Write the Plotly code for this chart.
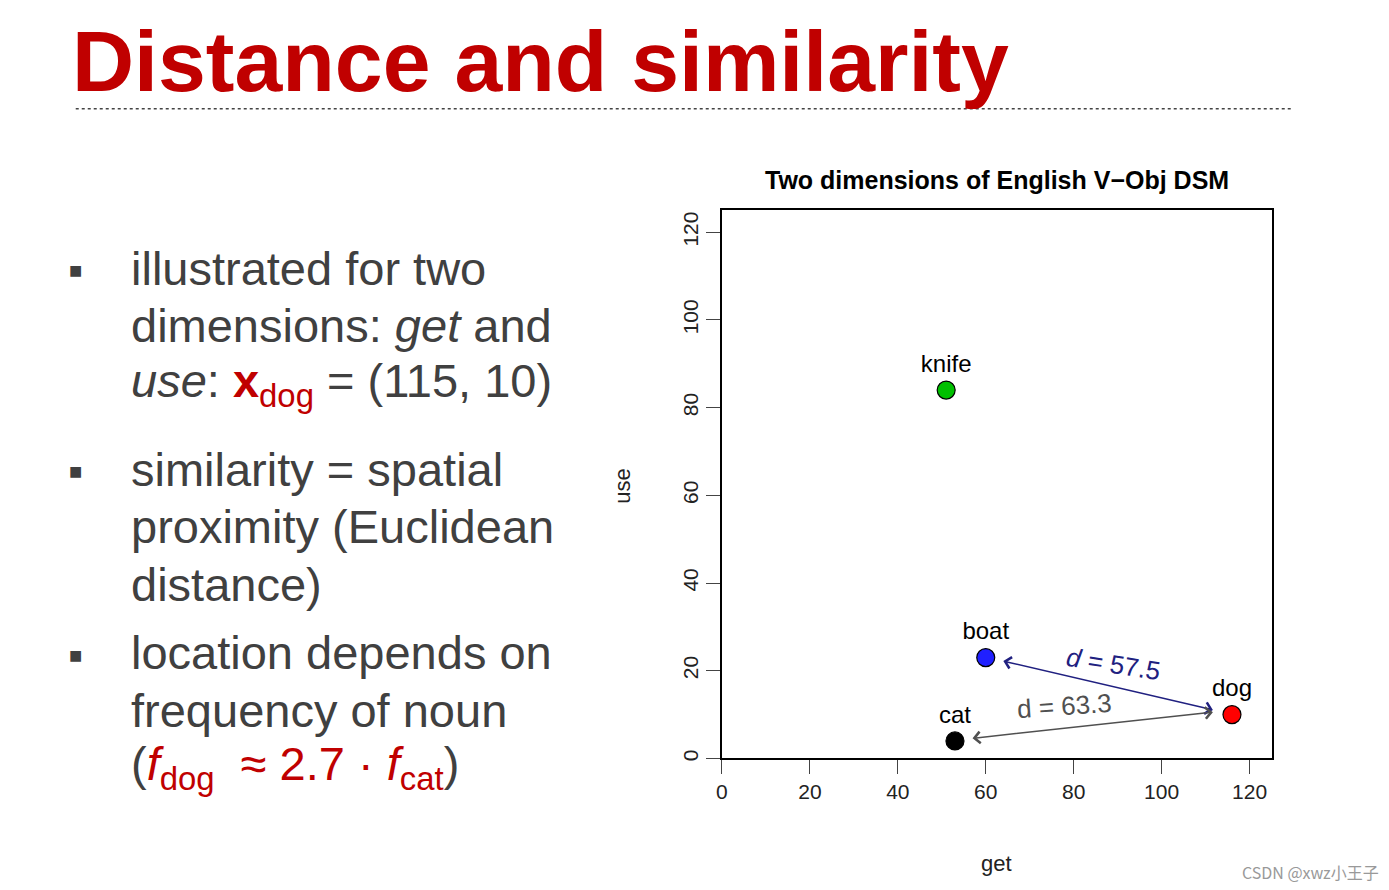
import plotly.graph_objects as go

words = ["knife", "boat", "cat", "dog"]
get_vals = [51, 60, 53, 116]
use_vals = [84, 23, 4, 10]
colors = ["#00c000", "#2020ff", "#000000", "#ff0000"]
ticks = [0, 20, 40, 60, 80, 100, 120]

W, H = 1389, 890
DX, DY = -10, -5  # page offset seen in render
FONT = "Liberation Sans, Arial, sans-serif"
RED = "#c00000"
GREY = "#404040"

def px(x):
    return (x + DX) / W

def py(y):
    return 1 - (y + DY) / H

fig = go.Figure()
fig.add_trace(go.Scatter(
    x=get_vals, y=use_vals, mode="markers+text", text=words,
    textposition="top center", textfont=dict(size=24, color="black", family=FONT),
    marker=dict(size=18, color=colors, line=dict(color="black", width=1.2)),
    cliponaxis=False, hoverinfo="skip"))

# distance arrows
fig.add_annotation(x=get_vals[1] + 4, y=use_vals[1] - 0.8, ax=get_vals[3] - 4, ay=use_vals[3] + 1,
                   xref="x", yref="y", axref="x", ayref="y", text="", showarrow=True,
                   arrowhead=4, startarrowhead=4, arrowside="end+start", arrowwidth=1.5,
                   arrowsize=1.5, arrowcolor="#202080")
fig.add_annotation(x=get_vals[2] + 4, y=use_vals[2] + 0.6, ax=get_vals[3] - 4, ay=use_vals[3] + 0.6,
                   xref="x", yref="y", axref="x", ayref="y", text="", showarrow=True,
                   arrowhead=4, startarrowhead=4, arrowside="end+start", arrowwidth=1.5,
                   arrowsize=1.5, arrowcolor="#505050")
fig.add_annotation(x=89, y=21.5, xref="x", yref="y", text="<i>d</i> = 57.5", showarrow=False,
                   textangle=9, font=dict(size=26, color="#202080", family=FONT))
fig.add_annotation(x=78, y=12, xref="x", yref="y", text="d = 63.3", showarrow=False,
                   textangle=-4, font=dict(size=26, color="#505050", family=FONT))

axis = dict(range=[0, 125], showgrid=False, zeroline=False, ticks="outside", ticklen=14,
            tickwidth=1.3, tickvals=ticks, tickfont=dict(size=21, color="#222", family=FONT),
            showline=True, linecolor="black", linewidth=1.5, mirror=True)
fig.update_layout(
    width=W, height=H, margin=dict(l=0, r=0, t=0, b=0),
    plot_bgcolor="white", paper_bgcolor="white", showlegend=False,
    xaxis=dict(domain=[px(721), px(1273)], **axis),
    yaxis=dict(domain=[py(758), py(208)], tickangle=-90, **axis),
)

ann = []
ann.append(dict(x=px(66), y=py(58), text="<b>Distance and similarity</b>", xanchor="left",
                font=dict(size=86, color=RED, family=FONT)))
ann.append(dict(x=px(997), y=py(178), text="<b>Two dimensions of English V\u2212Obj DSM</b>",
                xanchor="center", font=dict(size=25, color="black", family=FONT)))
ann.append(dict(x=px(997), y=py(863), text="get", xanchor="center",
                font=dict(size=22, color="#222", family=FONT)))
ann.append(dict(x=px(621), y=py(485), text="use", textangle=-90, xanchor="center",
                font=dict(size=22, color="#222", family=FONT)))

lines = [
    (266, "illustrated for two"),
    (324, "dimensions: <i>get</i> and"),
    (382, f"<i>use</i>: <span style='color:{RED}'><b>x</b><sub>dog</sub></span> = (115, 10)"),
    (468, "similarity = spatial"),
    (525, "proximity (Euclidean"),
    (583, "distance)"),
    (652, "location depends on"),
    (710, "frequency of noun"),
    (767, f"(<span style='color:{RED}'><i>f</i><sub>dog</sub>  \u2248 2.7 \u00b7 <i>f</i><sub>cat</sub></span>)"),
]
for y, t in lines:
    ann.append(dict(x=px(126), y=py(y), text=t, xanchor="left",
                    font=dict(size=47, color=GREY, family=FONT)))
for y in (268, 470, 655):
    ann.append(dict(x=px(72), y=py(y), text="\u25a0", xanchor="center",
                    font=dict(size=22, color=GREY, family=FONT)))
ann.append(dict(x=px(1383), y=py(872), text="CSDN @xwz小王子", xanchor="right",
                font=dict(size=16, color="#999", family="Noto Sans CJK SC")))
for a in ann:
    a.update(xref="paper", yref="paper", showarrow=False, yanchor="middle")
    fig.add_annotation(**a)

fig.add_shape(type="line", xref="paper", yref="paper", x0=px(72), x1=px(1293), y0=py(106), y1=py(106),
              line=dict(color="#444", width=1.5, dash="dot"))

fig.write_html("out.html")
